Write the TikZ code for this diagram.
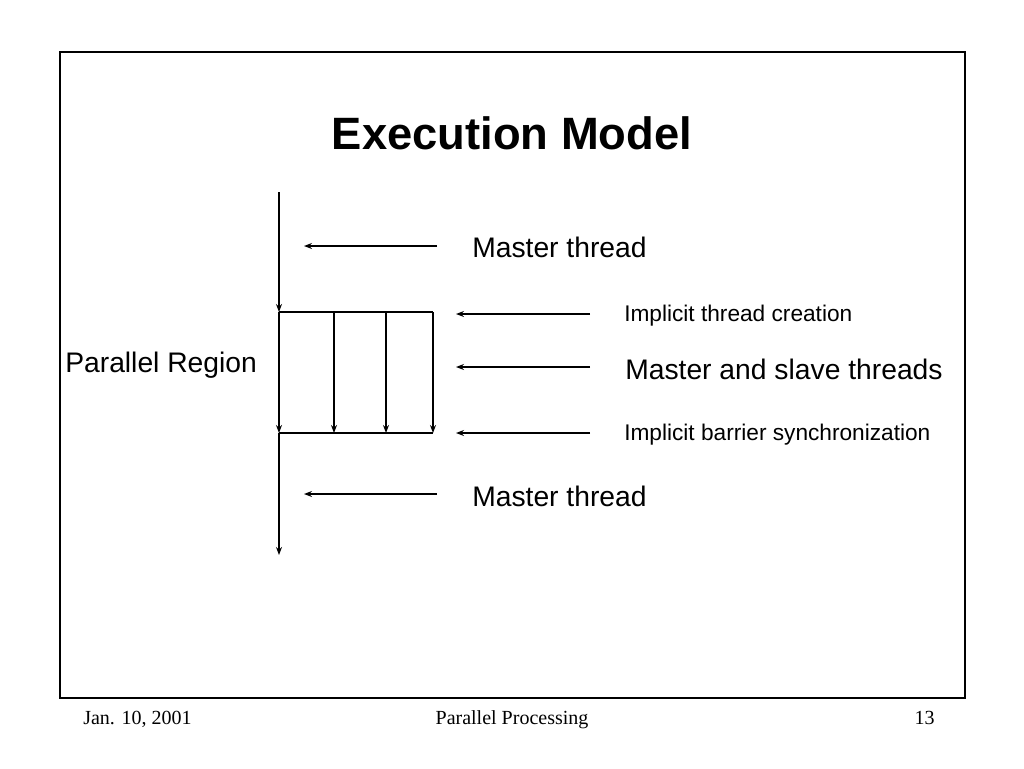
\documentclass[tikz,border=0pt]{standalone}
\usepackage{fontspec}
\setmainfont{Liberation Sans}
\newfontfamily\serifft{Liberation Serif}
\usetikzlibrary{arrows.meta}
\begin{document}
\begin{tikzpicture}[x=0.75pt,y=-0.75pt,
  ln/.style={line width=1pt},
  arr/.style={ln,-{Stealth[length=6pt,width=4.5pt]}},
  big/.style={font=\fontsize{21.2}{24}\selectfont,anchor=west,inner sep=0},
  small/.style={font=\fontsize{17}{20}\selectfont,anchor=west,inner sep=0},
  foot/.style={font=\serifft\fontsize{15}{18}\selectfont,inner sep=0}]
\useasboundingbox (0,0) rectangle (1024,768);
\draw[line width=1pt] (60,52) rectangle (965,698);
\node[font=\bfseries\fontsize{34}{40}\selectfont] (title) at (512,133) {Execution Model};
% main thread
\coordinate (m0) at (279,192);
\coordinate (m1) at (279,312);
\coordinate (m2) at (279,433);
\coordinate (m3) at (279,555);
\draw[arr] (m0) -- (m1);
\draw[arr] (m1) -- (m2);
\draw[arr] (m2) -- (m3);
\coordinate (f) at (433,312);
\coordinate (j) at (433,433);
\draw[ln] (m1) -- (f);
\draw[ln] (m2) -- (j);
\foreach \x/\n in {334/a,386/b,433/c}{
  \coordinate (t\n) at (\x,312); \coordinate (b\n) at (\x,433);
  \draw[arr] (t\n) -- (b\n);}
% labels
\node[big] (l1) at (472,247) {Master thread};
\node[small] (l2) at (624,316) {Implicit thread creation};
\node[big] (l3) at (625,369) {Master and slave threads};
\node[small] (l4) at (624,435) {Implicit barrier synchronization};
\node[big] (l5) at (472,496) {Master thread};
\node[big] (pr) at (65,365) {Parallel Region};
\coordinate (s1) at (437,246); \coordinate (e1) at (304,246);
\coordinate (s2) at (590,314); \coordinate (e2) at (456,314);
\coordinate (s3) at (590,367); \coordinate (e3) at (456,367);
\coordinate (s4) at (590,433); \coordinate (e4) at (456,433);
\coordinate (s5) at (437,494); \coordinate (e5) at (304,494);
\foreach \i in {1,...,5}{\draw[arr] (s\i) -- (e\i);}
% footer
\node[foot,anchor=base west] (d) at (83,724) {Jan. 10, 2001};
\node[foot,anchor=base] (pp) at (512,724) {Parallel Processing};
\node[foot,anchor=base east] (pg) at (935,724) {13};
\end{tikzpicture}
\end{document}
